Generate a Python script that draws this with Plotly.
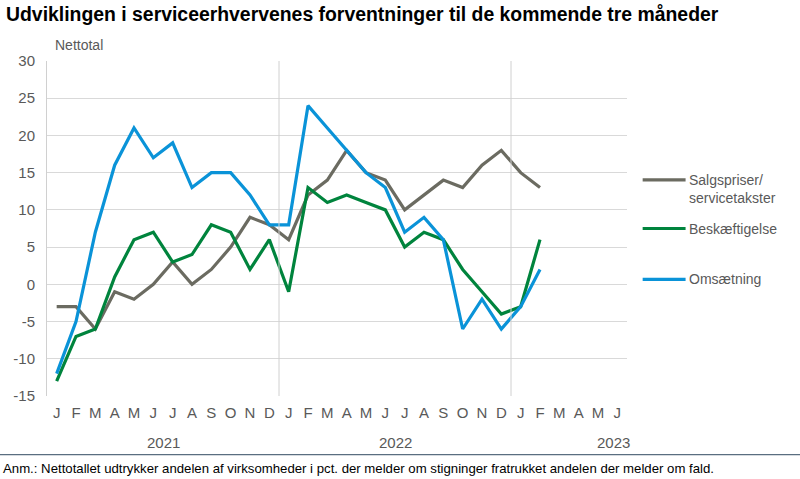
import plotly.graph_objects as go

months = ["J", "F", "M", "A", "M", "J", "J", "A", "S", "O", "N", "D"] * 2 + ["J", "F", "M", "A", "M", "J"]
years = ["2021", "2022", "2023"]
y_ticks = [-15, -10, -5, 0, 5, 10, 15, 20, 25, 30]

salgspriser = [-3, -3, -6, -1, -2, 0, 3, 0, 2, 5, 9, 8,
               6, 12, 14, 18, 15, 14, 10, 12, 14, 13, 16, 18,
               15, 13]
beskaeftigelse = [-13, -7, -6, 1, 6, 7, 3, 4, 8, 7, 2, 6,
                  -1, 13, 11, 12, 11, 10, 5, 7, 6, 2, -1, -4,
                  -3, 6]
omsaetning = [-12, -5, 7, 16, 21, 17, 19, 13, 15, 15, 12, 8,
              8, 24, 21, 18, 15, 13, 7, 9, 6, -6, -2, -6,
              -3, 2]

series = [
    ("Salgspriser/<br>servicetakster", salgspriser, "#6b6b61"),
    ("Beskæftigelse", beskaeftigelse, "#00843d"),
    ("Omsætning", omsaetning, "#0a93d8"),
]

FONT = "Liberation Sans, Arial"

fig = go.Figure()
for name, vals, col in series:
    fig.add_trace(go.Scatter(x=list(range(len(vals))), y=vals, mode="lines",
                             line=dict(color=col, width=3.2), name=name,
                             showlegend=False, hoverinfo="skip"))

tickfont = dict(family=FONT, size=15, color="#595959")
fig.update_layout(
    width=800, height=479,
    margin=dict(l=47, r=173, t=61, b=83),
    paper_bgcolor="white", plot_bgcolor="white",
    xaxis=dict(range=[-0.5, len(months) - 0.5], tickvals=list(range(len(months))),
               ticktext=months, showgrid=False, zeroline=False, showline=False,
               ticks="", tickfont=tickfont, automargin=False, ticklabelstandoff=6),
    yaxis=dict(range=[-15, 30], tickvals=y_ticks, ticktext=[str(v) for v in y_ticks],
               showgrid=True, gridcolor="#d9d9d9",
               gridwidth=1, zeroline=False, showline=True, linecolor="#d0d0d0",
               ticks="", tickfont=tickfont, ticklabelstandoff=8, automargin=False),
    font=dict(family=FONT),
)

# year separators
for xv in [11.5, 23.5]:
    fig.add_shape(type="line", xref="x", yref="paper", x0=xv, x1=xv, y0=0, y1=1,
                  line=dict(color="#d0d0d0", width=1))

# year labels
year_pos = [5.5, 17.5, 28.8]
for yr, center in zip(years, year_pos):
    fig.add_annotation(x=center, y=0, xref="x", yref="paper", text=yr,
                       showarrow=False, yanchor="middle", yshift=-46,
                       font=dict(family=FONT, size=15, color="#595959"))

# title
fig.add_annotation(x=0, y=1, xref="paper", yref="paper", xshift=-43, yshift=60,
                   text="<b>Udviklingen i serviceerhvervenes forventninger til de kommende tre måneder</b>",
                   showarrow=False, xanchor="left", yanchor="top",
                   font=dict(family=FONT, size=19.4, color="#000000"))
fig.add_annotation(x=0, y=1, xref="paper", yref="paper", xshift=6, yshift=26,
                   text="Nettotal", showarrow=False, xanchor="left", yanchor="top",
                   font=dict(family=FONT, size=14, color="#595959"))

# legend
legend_y = [0.645, 0.5, 0.348]
for (name, vals, col), ly in zip(series, legend_y):
    fig.add_shape(type="line", xref="paper", yref="paper", x0=1.027, x1=1.101,
                  y0=ly, y1=ly, line=dict(color=col, width=3.2))
    fig.add_annotation(x=1.103, y=ly, xref="paper", yref="paper", text=name,
                       showarrow=False, xanchor="left", align="left",
                       yanchor="top" if "<br>" in name else "middle",
                       yshift=10 if "<br>" in name else 0,
                       font=dict(family=FONT, size=14, color="#595959"))

# bottom separator and footnote
fig.add_shape(type="line", xref="paper", yref="paper", x0=-0.09, x1=1.31,
              y0=-0.175, y1=-0.175, line=dict(color="#5a6e80", width=1.2))
fig.add_annotation(x=0, y=0, xref="paper", yref="paper", xshift=-46, yshift=-72,
                   text="Anm.: Nettotallet udtrykker andelen af virksomheder i pct. der melder om stigninger fratrukket andelen der melder om fald.",
                   showarrow=False, xanchor="left", yanchor="middle",
                   font=dict(family=FONT, size=13.2, color="#000000"))

fig.write_html("out.html", config={"displayModeBar": False},
               post_script="document.body.style.margin='0';document.body.style.overflow='hidden';")
